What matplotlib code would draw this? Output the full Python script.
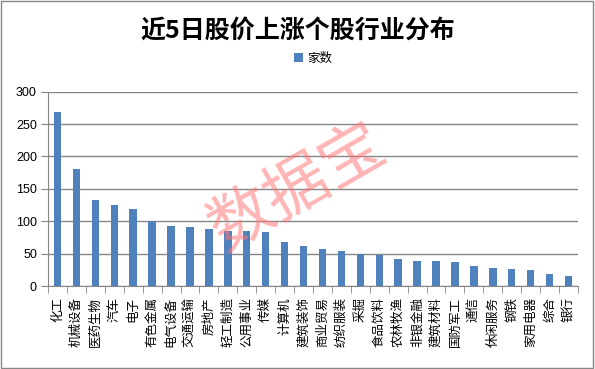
import matplotlib
matplotlib.use("Agg")
import matplotlib.pyplot as plt
from matplotlib.patches import Rectangle
import numpy as np

plt.rcParams['font.family'] = ['Noto Sans CJK SC', 'DejaVu Sans']

industries = ['化工', '机械设备', '医药生物', '汽车', '电子', '有色金属', '电气设备',
              '交通运输', '房地产', '轻工制造', '公用事业', '传媒', '计算机', '建筑装饰',
              '商业贸易', '纺织服装', '采掘', '食品饮料', '农林牧渔', '非银金融',
              '建筑材料', '国防军工', '通信', '休闲服务', '钢铁', '家用电器', '综合', '银行']
counts = [268, 180, 133, 125, 119, 100, 93, 91, 88, 85, 85, 83, 68, 62,
          57, 54, 49, 48, 41, 38, 38, 37, 31, 28, 26, 25, 18, 15]
yticks = [0, 50, 100, 150, 200, 250, 300]

fig = plt.figure(figsize=(5.95, 3.69), dpi=100)
ax = fig.add_axes([0.0807, 0.2249, 0.8907, 0.5266])

x = np.arange(len(industries))
ax.bar(x, counts, width=0.39, color='#4f81bd', label='家数', zorder=3)

ax.set_xlim(-0.5, len(industries) - 0.5)
ax.set_ylim(0, 300)
ax.set_yticks(yticks)
ax.set_yticklabels([str(v) for v in yticks], fontsize=9, family=['Liberation Sans'])
ax.yaxis.grid(True, color='#868686', linewidth=1, zorder=0)
ax.tick_params(axis='y', length=5, color='#868686', pad=3)

# category labels, rotated to read bottom-up
ax.set_xticks(x)
ax.set_xticklabels(industries, fontsize=9, rotation=90, ha='center', va='top')
ax.tick_params(axis='x', length=0, pad=8)
ax.set_xticks(np.arange(-0.5, len(industries)), minor=True)
ax.tick_params(axis='x', which='minor', length=5, color='#868686')

for side in ['top', 'right']:
    ax.spines[side].set_visible(False)
for side in ['left', 'bottom']:
    ax.spines[side].set_color('#868686')

fig.text(0.5, 0.918, '近5日股价上涨个股行业分布', ha='center', va='center',
         fontsize=18, fontweight='bold')
ax.legend(loc='center', bbox_to_anchor=(0.5, 1.17), frameon=False, fontsize=9,
          handlelength=0.7, handleheight=0.7, handletextpad=0.3)

# watermark
fig.text(0.50, 0.49, '数据宝', ha='center', va='center', fontsize=46,
         rotation=30, color='#ff7777', alpha=0.55)

fig.patches.append(Rectangle((0.002, 0.003), 0.995, 0.993, transform=fig.transFigure,
                             fill=False, edgecolor='#868686', linewidth=1))

fig.savefig('out.png', dpi=100)
